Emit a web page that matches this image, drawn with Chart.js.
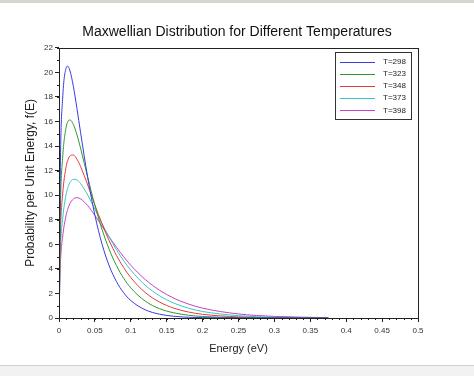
<!DOCTYPE html>
<html>
<head>
<meta charset="utf-8">
<script src="https://cdn.jsdelivr.net/npm/chart.js@4"></script>
<style>
  html, body { margin: 0; padding: 0; background: #fff; }
  #wrap { position: relative; width: 474px; height: 376px; overflow: hidden; background: #fff; }
  #topbar { position: absolute; left: 0; top: 0; width: 474px; height: 3px; background: #d6d5d0; }
  #bottombar { position: absolute; left: 0; top: 365px; width: 474px; height: 11px; background: #f2f2f2; border-top: 1px solid #cfcfcf; }
  #metricsChart { position: absolute; left: 0; top: 0; }
</style>
</head>
<body>
<div id="wrap">
  <div id="topbar"></div>
  <div id="bottombar"></div>
  <canvas id="metricsChart" width="474" height="376"></canvas>
</div>
<script>
// energy (eV) and f(E)
const energy = [0, 0.002, 0.005, 0.01, 0.012, 0.015, 0.02, 0.025, 0.03, 0.04, 0.05, 0.06, 0.07, 0.08, 0.09, 0.1, 0.12, 0.14, 0.16, 0.18, 0.2, 0.25, 0.3, 0.375];
const t298 = [0, 12.79, 17.81, 20.37, 20.50, 20.19, 18.86, 17.06, 15.12, 11.43, 8.37, 6.00, 4.24, 2.97, 2.06, 1.42, 0.67, 0.31, 0.14, 0.06, 0.03, 0.0, 0.0, 0.0];
const t323 = [0, 9.08, 13.00, 15.56, 15.95, 16.13, 15.77, 14.92, 13.84, 11.45, 9.17, 7.20, 5.57, 4.27, 3.24, 2.45, 1.38, 0.76, 0.42, 0.23, 0.12, 0.03, 0.01, 0.0];
const t348 = [0, 6.88, 10.01, 12.35, 12.80, 13.18, 13.27, 12.93, 12.34, 10.83, 9.20, 7.66, 6.28, 5.10, 4.11, 3.29, 2.08, 1.30, 0.80, 0.49, 0.30, 0.09, 0.02, 0.0];
const t373 = [0, 5.44, 8.02, 10.09, 10.55, 11.00, 11.29, 11.24, 10.95, 10.01, 8.86, 7.68, 6.57, 5.56, 4.67, 3.90, 2.67, 1.81, 1.21, 0.81, 0.53, 0.19, 0.06, 0.01];
const t398 = [0, 4.41, 6.57, 8.40, 8.83, 9.29, 9.69, 9.80, 9.70, 9.15, 8.35, 7.47, 6.59, 5.76, 4.99, 4.29, 3.14, 2.26, 1.61, 1.14, 0.80, 0.33, 0.13, 0.03];

const seriesLabels = ['T=298', 'T=323', 'T=348', 'T=373', 'T=398'];
const seriesValues = [t298, t323, t348, t373, t398];
const seriesColors = ['#3b3be0', '#2f9a2f', '#e83b3b', '#35c8c8', '#c444c4'];

const FONT = 'Liberation Sans, Arial, sans-serif';

const toPoints = (vals) => energy.map((e, i) => ({ x: e, y: vals[i] }));

// frame, minor ticks and boxed legend
const extras = {
  id: 'extras',
  afterDraw(chart) {
    const { ctx, chartArea: a, scales } = chart;
    ctx.save();
    ctx.strokeStyle = '#222';
    ctx.lineWidth = 1;
    ctx.strokeRect(Math.round(a.left) + 0.5, Math.round(a.top) + 0.5,
      Math.round(a.right - a.left), Math.round(a.bottom - a.top));

    ctx.beginPath();
    for (let i = 0; i <= 50; i++) {
      const px = Math.round(scales.x.getPixelForValue(i / 100)) + 0.5;
      ctx.moveTo(px, a.bottom);
      ctx.lineTo(px, a.bottom + 2);
    }
    for (let i = 0; i <= 22; i++) {
      const py = Math.round(scales.y.getPixelForValue(i)) + 0.5;
      ctx.moveTo(a.left, py);
      ctx.lineTo(a.left - 2, py);
    }
    ctx.stroke();

    // legend box
    const bx = 335.5, by = 52.5, bw = 76, bh = 67;
    ctx.fillStyle = '#fff';
    ctx.fillRect(bx, by, bw, bh);
    ctx.strokeStyle = '#333';
    ctx.strokeRect(bx, by, bw, bh);
    ctx.font = '8px ' + FONT;
    ctx.textBaseline = 'middle';
    ctx.textAlign = 'left';
    chart.data.datasets.forEach((ds, i) => {
      const y = 61.5 + i * 12.2;
      ctx.strokeStyle = ds.borderColor;
      ctx.beginPath();
      ctx.moveTo(340, Math.round(y) + 0.5);
      ctx.lineTo(375, Math.round(y) + 0.5);
      ctx.stroke();
      ctx.fillStyle = '#222';
      ctx.fillText(ds.label, 383, y);
    });
    ctx.restore();
  }
};

let metricsChart;

const initChart = () => {
  const ctx = document.getElementById('metricsChart').getContext('2d');

  metricsChart = new Chart(ctx, {
    type: 'line',
    data: {
      datasets: seriesLabels.map((label, i) => ({
        label: label,
        data: toPoints(seriesValues[i]),
        borderColor: seriesColors[i],
        borderWidth: 1,
        pointRadius: 0,
        fill: false,
        cubicInterpolationMode: 'monotone'
      }))
    },
    options: {
      responsive: false,
      animation: false,
      layout: { padding: 0 },
      plugins: {
        legend: { display: false },
        tooltip: { enabled: false },
        title: {
          display: true,
          text: 'Maxwellian Distribution for Different Temperatures',
          color: '#111',
          font: { family: FONT, size: 14, weight: 'normal', lineHeight: 1.2 },
          padding: { top: 24, bottom: 7 }
        }
      },
      scales: {
        x: {
          type: 'linear',
          min: 0,
          max: 0.5,
          afterFit: (s) => { s.height = 58; },
          border: { display: false },
          grid: { drawOnChartArea: false, tickLength: 4, color: '#222' },
          ticks: {
            stepSize: 0.05,
            autoSkip: false,
            maxRotation: 0,
            padding: 4,
            color: '#333',
            font: { family: FONT, size: 8 },
            callback: (v) => String(+v.toFixed(2))
          },
          title: {
            display: true,
            text: 'Energy (eV)',
            color: '#222',
            font: { family: FONT, size: 11 },
            padding: { top: 0, bottom: 20 }
          }
        },
        y: {
          min: 0,
          max: 22,
          afterFit: (s) => { s.width = 59; },
          border: { display: false },
          grid: { drawOnChartArea: false, tickLength: 4, color: '#222' },
          ticks: {
            stepSize: 2,
            padding: 2,
            color: '#333',
            font: { family: FONT, size: 8 }
          },
          title: {
            display: true,
            text: 'Probability per Unit Energy, f(E)',
            color: '#222',
            font: { family: FONT, size: 12 },
            padding: { top: 23, bottom: 0 }
          }
        },
        // empty right-hand axis: keeps the plot's right edge at 418px while the title stays centred on the page
        yRight: {
          position: 'right',
          min: 0,
          max: 22,
          afterFit: (s) => { s.width = 56; },
          border: { display: false },
          grid: { display: false },
          ticks: { display: false }
        }
      }
    },
    plugins: [extras]
  });
};

initChart();
</script>
</body>
</html>
